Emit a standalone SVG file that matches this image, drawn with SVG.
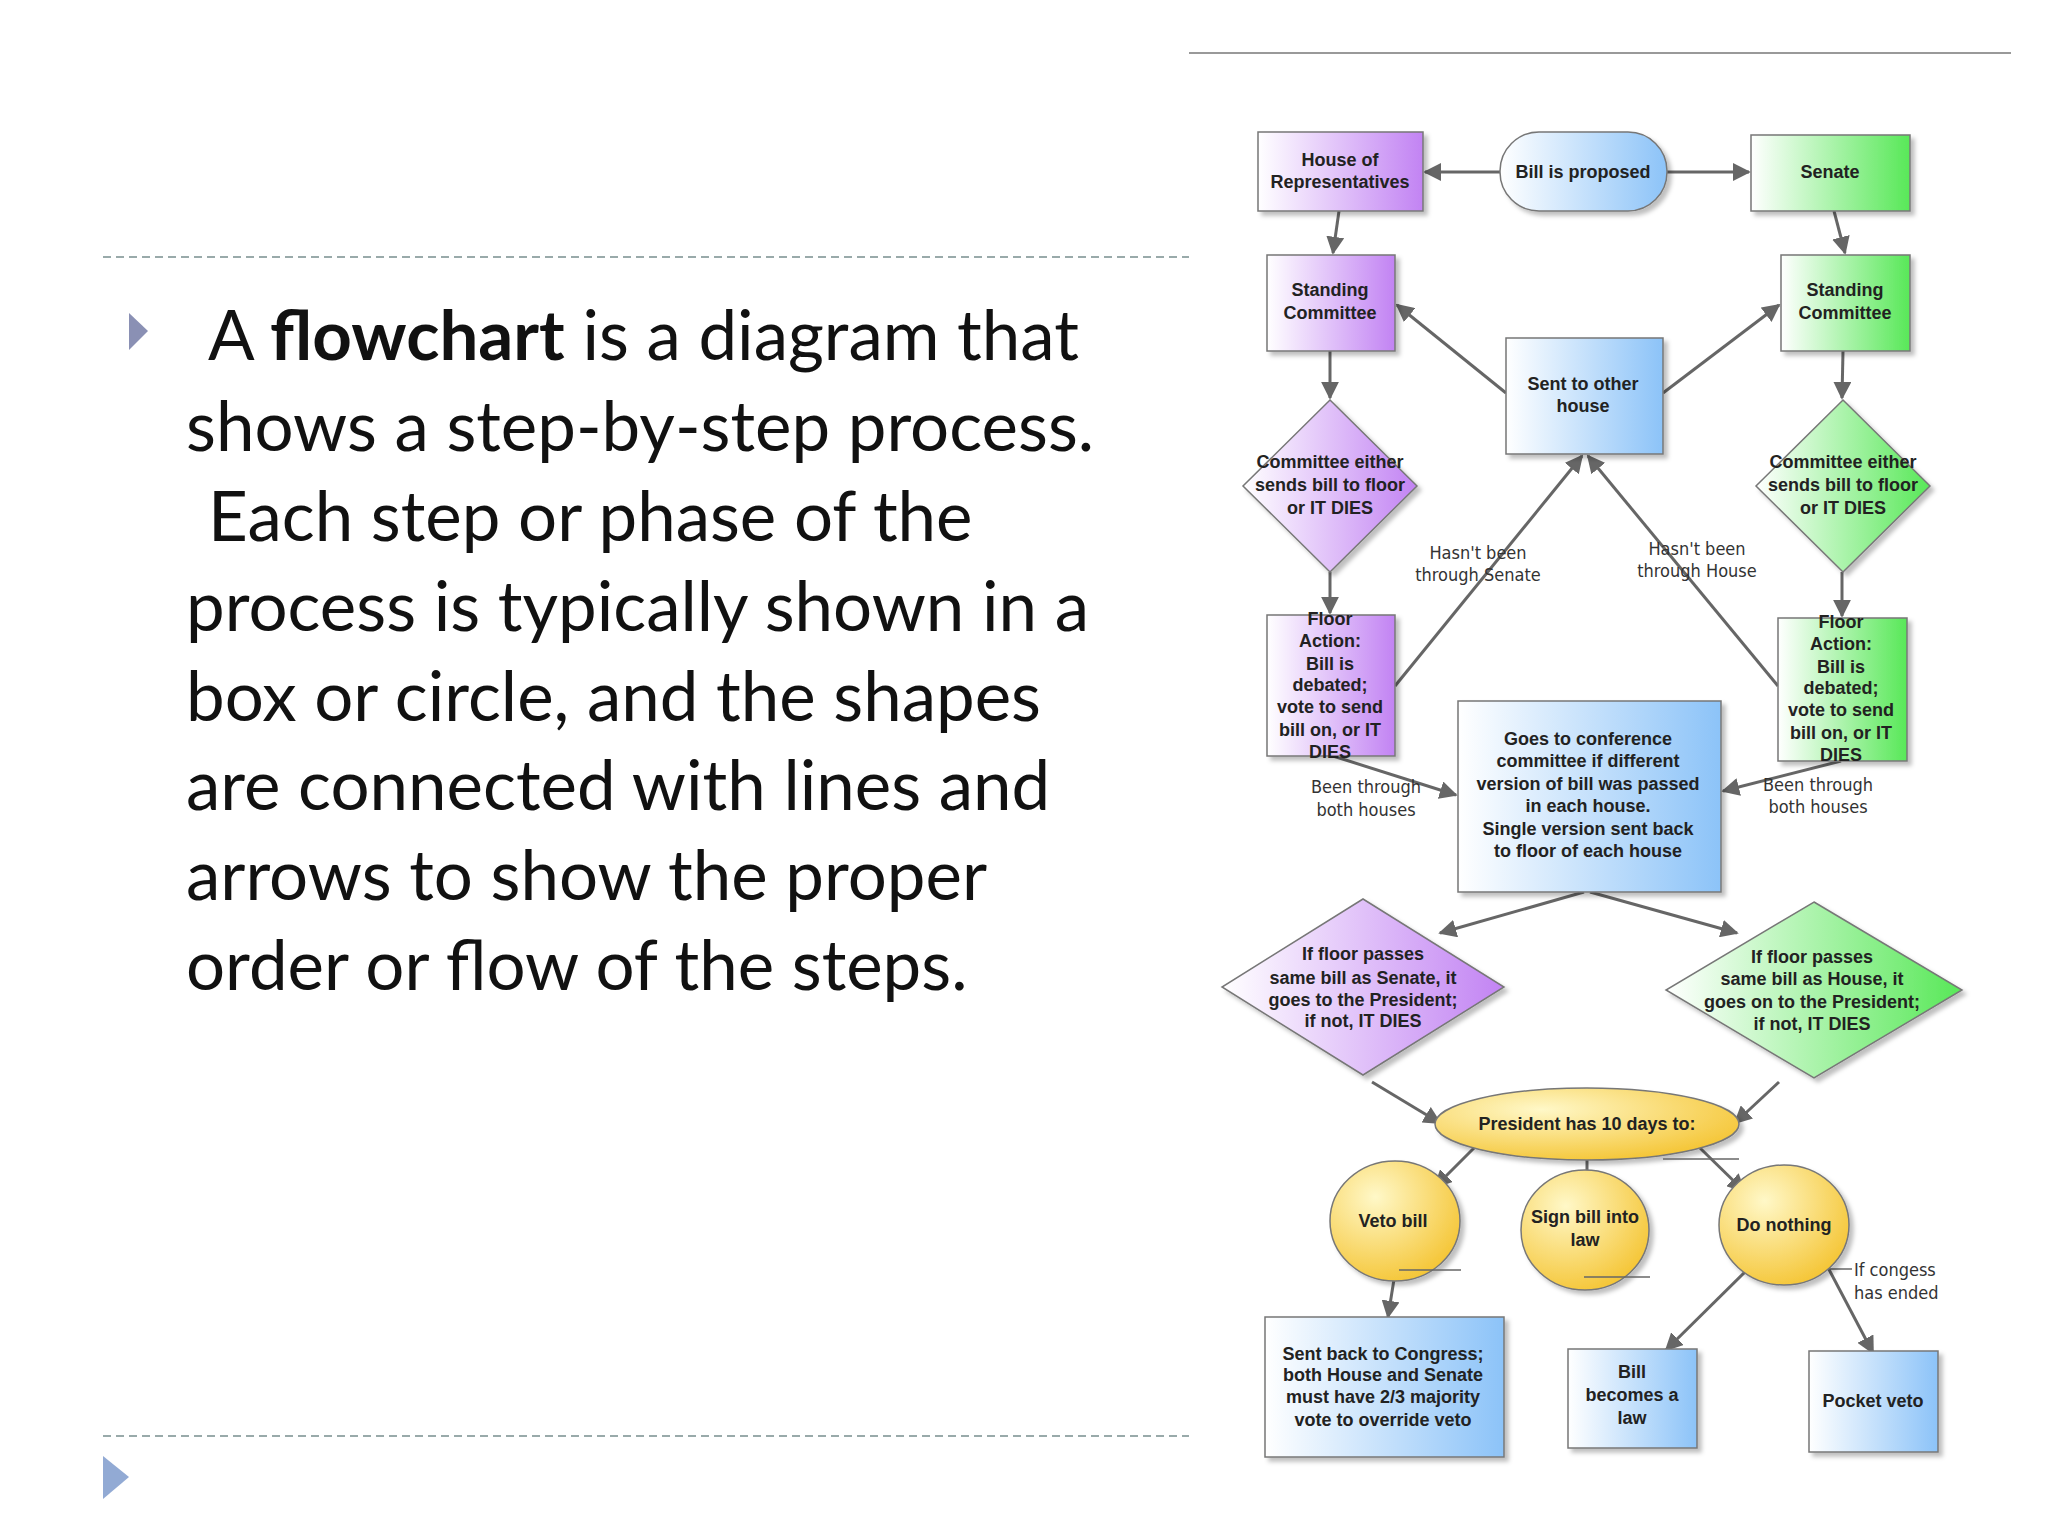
<svg xmlns="http://www.w3.org/2000/svg" width="2048" height="1536" viewBox="0 0 2048 1536">
<defs>
<linearGradient id="gp" x1="0" x2="1" y1="0" y2="0"><stop offset="0" stop-color="#ffffff"/><stop offset="1" stop-color="#c283f3"/></linearGradient>
<linearGradient id="gg" x1="0" x2="1" y1="0" y2="0"><stop offset="0" stop-color="#ffffff"/><stop offset="1" stop-color="#58e858"/></linearGradient>
<linearGradient id="gb" x1="0" x2="1" y1="0" y2="0"><stop offset="0" stop-color="#ffffff"/><stop offset="1" stop-color="#8cc3f8"/></linearGradient>
<radialGradient id="gy" cx="0.35" cy="0.3" r="0.8"><stop offset="0" stop-color="#fff8c8"/><stop offset="1" stop-color="#f4c22c"/></radialGradient>
<filter id="sh" x="-10%" y="-10%" width="130%" height="130%"><feDropShadow dx="4" dy="4" stdDeviation="2" flood-color="#000" flood-opacity="0.25"/></filter>
<marker id="ar" viewBox="0 0 10 10" refX="9" refY="5" markerWidth="6" markerHeight="6" orient="auto" markerUnits="strokeWidth"><path d="M0,0 L10,5 L0,10 z" fill="#666"/></marker>
</defs>
<style>
.n{stroke:#777;stroke-width:1.5;filter:url(#sh)}
.t{font-family:"Liberation Sans",Arial,sans-serif;font-weight:bold;font-size:18px;fill:#222;text-anchor:middle;dominant-baseline:central}
.l{font-family:"DejaVu Sans Condensed","Liberation Sans",sans-serif;font-size:18px;fill:#333;text-anchor:middle;dominant-baseline:central}
.ls{text-anchor:start}
.c line{stroke:#666;stroke-width:3;marker-end:url(#ar)}
.b{font-family:Lato,"Open Sans",sans-serif;font-size:69px;fill:#111}
</style>
<rect width="2048" height="1536" fill="#fff"/>
<line x1="1189" y1="53" x2="2011" y2="53" stroke="#999" stroke-width="2"/>
<line x1="103" y1="257" x2="1189" y2="257" stroke="#9aa" stroke-width="2" stroke-dasharray="8,5"/>
<line x1="103" y1="1436" x2="1189" y2="1436" stroke="#9aa" stroke-width="2" stroke-dasharray="8,5"/>
<polygon points="129,313 148,331 129,350" fill="#8a90b4"/>
<polygon points="103,1456 129,1477 103,1499" fill="#92aad4"/>
<g id="bodytext" class="b">
<text x="208" y="360">A <tspan font-weight="bold">flowchart</tspan> is a diagram that</text>
<text x="186" y="451">shows a step-by-step process.</text>
<text x="208" y="541">Each step or phase of the</text>
<text x="186" y="631">process is typically shown in a</text>
<text x="186" y="721">box or circle, and the shapes</text>
<text x="186" y="810">are connected with lines and</text>
<text x="186" y="900">arrows to show the proper</text>
<text x="186" y="990">order or flow of the steps.</text>
</g>
<g id="connectors" class="c">
<line x1="1500" y1="172" x2="1425" y2="172"/>
<line x1="1667" y1="172" x2="1749" y2="172"/>
<line x1="1339" y1="211" x2="1333" y2="253"/>
<line x1="1834" y1="211" x2="1845" y2="253"/>
<line x1="1330" y1="351" x2="1330" y2="398"/>
<line x1="1843" y1="351" x2="1842" y2="398"/>
<line x1="1330" y1="572" x2="1330" y2="613"/>
<line x1="1842" y1="572" x2="1842" y2="616"/>
<line x1="1506" y1="393" x2="1397" y2="305"/>
<line x1="1663" y1="393" x2="1779" y2="305"/>
<line x1="1395" y1="686" x2="1582" y2="456"/>
<line x1="1778" y1="686" x2="1588" y2="456"/>
<line x1="1333" y1="756" x2="1456" y2="795"/>
<line x1="1841" y1="761" x2="1723" y2="791"/>
<line x1="1584" y1="892" x2="1440" y2="933"/>
<line x1="1590" y1="892" x2="1737" y2="933"/>
<line x1="1372" y1="1082" x2="1440" y2="1123"/>
<line x1="1779" y1="1082" x2="1735" y2="1123"/>
<line x1="1474" y1="1148" x2="1435" y2="1187"/>
<line x1="1587" y1="1160" x2="1587" y2="1196"/>
<line x1="1700" y1="1148" x2="1744" y2="1191"/>
<line x1="1395" y1="1273" x2="1388" y2="1317"/>
<line x1="1750" y1="1267" x2="1666" y2="1350"/>
<line x1="1824" y1="1260" x2="1873" y2="1353"/>
</g>
<g id="lbl">
<text class="l" x="1478" y="552">Hasn't been</text><text class="l" x="1478" y="574">through Senate</text>
<text class="l" x="1697" y="548">Hasn't been</text><text class="l" x="1697" y="570">through House</text>
<text class="l" x="1366" y="786">Been through</text><text class="l" x="1366" y="809">both houses</text>
<text class="l" x="1818" y="784">Been through</text><text class="l" x="1818" y="806">both houses</text>
<line x1="1825" y1="1269" x2="1852" y2="1269" stroke="#666" stroke-width="1.5"/>
<text class="l ls" x="1854" y="1269">If congess</text><text class="l ls" x="1854" y="1292">has ended</text>
</g>
<g id="house"><rect class="n" x="1258" y="132" width="165" height="79" fill="url(#gp)"/><text class="t" x="1340" y="160">House of</text><text class="t" x="1340" y="182">Representatives</text></g>
<g id="bill"><rect class="n" x="1500" y="132" width="167" height="79" rx="39" fill="url(#gb)"/><text class="t" x="1583" y="172">Bill is proposed</text></g>
<g id="senate"><rect class="n" x="1751" y="135" width="159" height="76" fill="url(#gg)"/><text class="t" x="1830" y="172">Senate</text></g>
<g id="scl"><rect class="n" x="1267" y="255" width="128" height="96" fill="url(#gp)"/><text class="t" x="1330" y="290">Standing</text><text class="t" x="1330" y="313">Committee</text></g>
<g id="scr"><rect class="n" x="1781" y="255" width="129" height="96" fill="url(#gg)"/><text class="t" x="1845" y="290">Standing</text><text class="t" x="1845" y="313">Committee</text></g>
<g id="sent"><rect class="n" x="1506" y="338" width="157" height="116" fill="url(#gb)"/><text class="t" x="1583" y="384">Sent to other</text><text class="t" x="1583" y="406">house</text></g>
<g id="dl"><polygon class="n" points="1330,400 1417,486 1330,572 1243,486" fill="url(#gp)"/><text class="t" x="1330" y="462">Committee either</text><text class="t" x="1330" y="485">sends bill to floor</text><text class="t" x="1330" y="508">or IT DIES</text></g>
<g id="dr"><polygon class="n" points="1843,400 1930,486 1843,572 1756,486" fill="url(#gg)"/><text class="t" x="1843" y="462">Committee either</text><text class="t" x="1843" y="485">sends bill to floor</text><text class="t" x="1843" y="508">or IT DIES</text></g>
<g id="fl"><rect class="n" x="1267" y="615" width="128" height="141" fill="url(#gp)"/>
<text class="t" x="1330" y="619">Floor</text><text class="t" x="1330" y="641">Action:</text><text class="t" x="1330" y="664">Bill is</text><text class="t" x="1330" y="685">debated;</text><text class="t" x="1330" y="707">vote to send</text><text class="t" x="1330" y="730">bill on, or IT</text><text class="t" x="1330" y="752">DIES</text></g>
<g id="fr"><rect class="n" x="1778" y="618" width="129" height="143" fill="url(#gg)"/>
<text class="t" x="1841" y="622">Floor</text><text class="t" x="1841" y="644">Action:</text><text class="t" x="1841" y="667">Bill is</text><text class="t" x="1841" y="688">debated;</text><text class="t" x="1841" y="710">vote to send</text><text class="t" x="1841" y="733">bill on, or IT</text><text class="t" x="1841" y="755">DIES</text></g>
<g id="conf"><rect class="n" x="1458" y="701" width="263" height="191" fill="url(#gb)"/>
<text class="t" x="1588" y="739">Goes to conference</text><text class="t" x="1588" y="761">committee if different</text><text class="t" x="1588" y="784">version of bill was passed</text><text class="t" x="1588" y="806">in each house.</text><text class="t" x="1588" y="829">Single version sent back</text><text class="t" x="1588" y="851">to floor of each house</text></g>
<g id="dll"><polygon class="n" points="1363,899 1504,987 1363,1075 1222,987" fill="url(#gp)"/>
<text class="t" x="1363" y="954">If floor passes</text><text class="t" x="1363" y="978">same bill as Senate, it</text><text class="t" x="1363" y="1000">goes to the President;</text><text class="t" x="1363" y="1021">if not, IT DIES</text></g>
<g id="drr"><polygon class="n" points="1814,902 1962,990 1814,1078 1666,990" fill="url(#gg)"/>
<text class="t" x="1812" y="957">If floor passes</text><text class="t" x="1812" y="979">same bill as House, it</text><text class="t" x="1812" y="1002">goes on to the President;</text><text class="t" x="1812" y="1024">if not, IT DIES</text></g>
<g id="pres"><ellipse class="n" cx="1587" cy="1124" rx="152" ry="36" fill="url(#gy)"/><line x1="1663" y1="1159" x2="1739" y2="1159" stroke="#666" stroke-width="1.5"/><text class="t" x="1587" y="1124">President has 10 days to:</text></g>
<g id="veto"><ellipse class="n" cx="1395" cy="1221" rx="65" ry="60" fill="url(#gy)"/><line x1="1399" y1="1270" x2="1461" y2="1270" stroke="#666" stroke-width="1.5"/><text class="t" x="1393" y="1221">Veto bill</text></g>
<g id="sign"><ellipse class="n" cx="1585" cy="1230" rx="64" ry="60" fill="url(#gy)"/><line x1="1584" y1="1277" x2="1650" y2="1277" stroke="#666" stroke-width="1.5"/><text class="t" x="1585" y="1217">Sign bill into</text><text class="t" x="1585" y="1240">law</text></g>
<g id="nothing"><ellipse class="n" cx="1784" cy="1225" rx="65" ry="60" fill="url(#gy)"/><text class="t" x="1784" y="1225">Do nothing</text></g>
<g id="sentback"><rect class="n" x="1265" y="1317" width="239" height="140" fill="url(#gb)"/>
<text class="t" x="1383" y="1354">Sent back to Congress;</text><text class="t" x="1383" y="1375">both House and Senate</text><text class="t" x="1383" y="1397">must have 2/3 majority</text><text class="t" x="1383" y="1420">vote to override veto</text></g>
<g id="law"><rect class="n" x="1568" y="1349" width="129" height="99" fill="url(#gb)"/><text class="t" x="1632" y="1372">Bill</text><text class="t" x="1632" y="1395">becomes a</text><text class="t" x="1632" y="1418">law</text></g>
<g id="pocket"><rect class="n" x="1809" y="1351" width="129" height="101" fill="url(#gb)"/><text class="t" x="1873" y="1401">Pocket veto</text></g>
</svg>
